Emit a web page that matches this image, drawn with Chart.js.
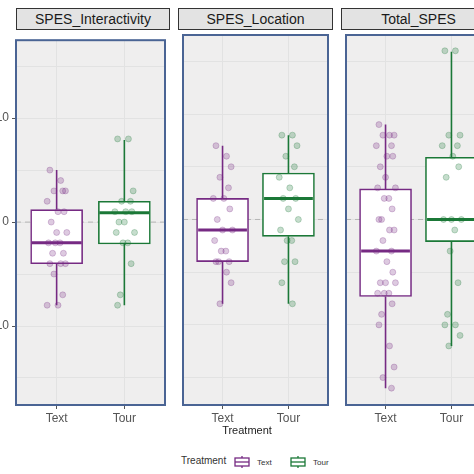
<!DOCTYPE html>
<html><head><meta charset="utf-8">
<script src="https://cdn.jsdelivr.net/npm/chart.js@4"></script>
<style>
body{margin:0;width:474px;height:474px;overflow:hidden;background:#fff;position:relative;font-family:"Liberation Sans",Arial,sans-serif;color:#333}
.strip{position:absolute;top:8px;height:22px;background:#e3e3e3;border:1px solid #333;box-sizing:border-box;text-align:center;font-size:14px;line-height:21px;color:#1a1a1a}
canvas{position:absolute}
.leg{position:absolute;top:455px;font-size:10px;color:#333}
.ico{position:absolute;top:456px;width:20px;height:12px}
</style></head><body>
<div class="strip" style="left:16px;width:154px">SPES_Interactivity</div>
<div class="strip" style="left:178px;width:155px">SPES_Location</div>
<div class="strip" style="left:341px;width:155px">Total_SPES</div>
<div id="w1" style="position:absolute;left:-26px;top:30px;width:196px;height:400px"><canvas id="c1"></canvas></div>
<div id="w2" style="position:absolute;left:178px;top:30px;width:155px;height:400px"><canvas id="c2"></canvas></div>
<div id="w3" style="position:absolute;left:341px;top:30px;width:155px;height:400px"><canvas id="c3"></canvas></div>
<div style="position:absolute;top:424px;left:0;width:494px;text-align:center;font-size:11px;color:#222">Treatment</div>
<div class="leg" style="left:181px">Treatment</div>
<svg class="ico" style="left:232px" viewBox="0 0 20 12"><line x1="10" y1="0" x2="10" y2="12" stroke="#762a83" stroke-width="1.3"/><rect x="3" y="2" width="14" height="8" fill="#fff" stroke="#762a83" stroke-width="1.3"/><line x1="3" y1="6" x2="17" y2="6" stroke="#762a83" stroke-width="1.3"/></svg>
<div class="leg" style="left:257px;font-size:8px;top:458px">Text</div>
<svg class="ico" style="left:288px" viewBox="0 0 20 12"><line x1="10" y1="0" x2="10" y2="12" stroke="#1b7837" stroke-width="1.3"/><rect x="3" y="2" width="14" height="8" fill="#fff" stroke="#1b7837" stroke-width="1.3"/><line x1="3" y1="6" x2="17" y2="6" stroke="#1b7837" stroke-width="1.3"/></svg>
<div class="leg" style="left:313px;font-size:8px;top:458px">Tour</div>
<script>
const categories = ["Text", "Tour"];
const panels = ["SPES_Interactivity", "SPES_Location", "Total_SPES"];
const yTickLabels = {"10": "10", "0": "0", "-10": "-10"};
// box stats per panel: [whiskerLow, q1, median, q3, whiskerHigh]
const statsText = [[-8, -4, -2, 1.2, 5], [-8, -4, -1, 2, 7], [-16, -7.3, -3, 2.9, 9]];
const statsTour = [[-8, -2.1, 0.9, 2, 7.9], [-8, -1.6, 2, 4.4, 8], [-12, -2.1, 0, 5.9, 15.9]];
const pointsText = [
  [5,4,3,3,3,2,1,1,0,-1,-1,-2,-2,-2,-3,-3,-4,-4,-4,-5,-7,-8,-8],
  [7,6,5,4,3,2,2,1,0,-1,-1,-2,-3,-3,-4,-4,-4,-5,-6,-8],
  [9,8,8,8,7,7,6,6,5,4,3,3,2,2,1,0,0,-1,-1,-2,-3,-3,-4,-5,-6,-6,-6,-7,-7,-7,-8,-9,-10,-12,-14,-15,-16]
];
const pointsTour = [
  [8,8,3,2,2,1,1,1,0,0,-1,-1,-2,-2,-4,-7,-8],
  [8,8,7,6,5,4,3,2,2,1,0,-1,-2,-2,-4,-4,-6,-8],
  [16,16,8,8,7,7,6,5,4,0,0,0,-1,-3,-6,-9,-10,-10,-11,-12]
];
const jitter = [-0.1,0.06,0.13,-0.04,0.09,-0.14,0.02,0.11,-0.08,0.0,0.15,-0.12,0.05,-0.02,0.1,-0.06];
const PURPLE = '#762a83', GREEN = '#1b7837';

function boxDatasets(x, s, col) {
  const hw = 0.37;
  return [
    {type:'bar', data:[{x:x, y:[s[1], s[3]]}], backgroundColor:'#fff', borderColor:col, borderWidth:1.6, borderSkipped:false, barThickness:52, grouped:false, order:3},
    {type:'line', data:[{x:x,y:s[0]},{x:x,y:s[1]},{x:x,y:null},{x:x,y:s[3]},{x:x,y:s[4]}], borderColor:col, borderWidth:1.6, pointRadius:0, spanGaps:false, order:2},
    {type:'line', data:[{x:x-hw,y:s[2]},{x:x+hw,y:s[2]}], borderColor:col, borderWidth:3, pointRadius:0, order:2}
  ];
}
function pts(x, vals, rgba) {
  return {type:'scatter', data: vals.map((v,i)=>({x:x+jitter[i%jitter.length], y:v})), backgroundColor:rgba, borderColor:rgba, pointRadius:3, order:1};
}
const frame = {id:'frame', afterDraw(c){const a=c.chartArea,ctx=c.ctx;ctx.save();ctx.strokeStyle='#4a6494';ctx.lineWidth=2;ctx.strokeRect(a.left,a.top,a.right-a.left,a.bottom-a.top);ctx.restore();},
  beforeDraw(c){const a=c.chartArea,ctx=c.ctx;ctx.save();ctx.fillStyle='#efeeee';ctx.fillRect(a.left,a.top,a.right-a.left,a.bottom-a.top);ctx.restore();}};

function make(id, p, showY) {
  const ds = [
    {type:'line', data:[{x:0.4,y:0},{x:2.6,y:0}], borderColor:'#b5b5b5', borderDash:[5,4], borderWidth:1, pointRadius:0, order:4},
    ...boxDatasets(1, statsText[p], PURPLE), ...boxDatasets(2, statsTour[p], GREEN),
    pts(1, pointsText[p], 'rgba(118,42,131,0.25)'), pts(2, pointsTour[p], 'rgba(27,120,55,0.25)')
  ];
  new Chart(document.getElementById(id), {
    type:'scatter', data:{datasets:ds}, plugins:[frame],
    options:{responsive:true, maintainAspectRatio:false, animation:false,
      layout:{padding:{top:0,right:1,left:0,bottom:0}},
      plugins:{legend:{display:false}, tooltip:{enabled:false}},
      scales:{
        x:{type:'linear', min:0.4, max:2.6, offset:false, afterBuildTicks(s){s.ticks=[{value:1},{value:2}];},
           afterFit(s){s.height=25;},
           ticks:{callback:(v)=>categories[v-1], color:'#555', font:{size:12,family:'Liberation Sans'}, padding:2},
           grid:{color:'#e2e2e2', tickLength:4, tickColor:'#555', offset:false}, border:{display:false}},
        y:{min:-17.6, max:17.5, afterBuildTicks(s){s.ticks=[-15,-10,-5,0,5,10,15].map(v=>({value:v}));},
           afterFit(s){s.width=showY?42:0;},
           ticks:{display:showY, callback:(v)=>yTickLabels[String(v)]||'', color:'#555', font:{size:12,family:'Liberation Sans'}, padding:3},
           grid:{color:'#e2e2e2', tickLength:showY?4:0, tickColor:(c)=>c.tick&&c.tick.value%10===0?'#555':'rgba(0,0,0,0)'}, border:{display:false}}
      }}
  });
}
make('c1',0,true); make('c2',1,false); make('c3',2,false);
</script></body></html>
